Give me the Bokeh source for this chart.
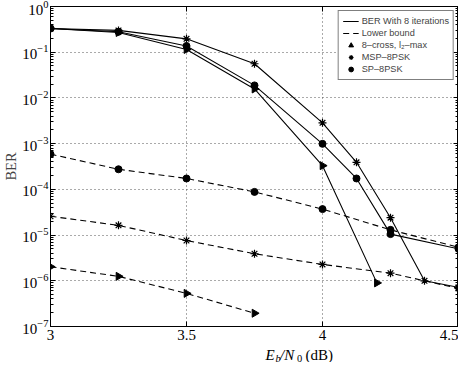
import math
from bokeh.plotting import figure
from bokeh.layouts import column
from bokeh.models import (LogAxis, LinearAxis, Legend, LegendItem, Label,
                          FixedTicker, Range1d)
from bokeh.embed import file_html
from bokeh.resources import INLINE

# ---------------- data ----------------
x_cross = [3.0, 3.25, 3.5, 3.75, 4.0, 4.2]
ber_cross = [0.33, 0.27, 0.115, 0.0157, 3.3e-4, 9.0e-7]

x_msp = [3.0, 3.25, 3.5, 3.75, 4.0, 4.125, 4.25, 4.375, 4.5]
ber_msp = [0.33, 0.30, 0.196, 0.056, 2.85e-3, 3.9e-4, 2.4e-5, 1.0e-6, 7.2e-7]

x_sp = [3.0, 3.25, 3.5, 3.75, 4.0, 4.125, 4.25, 4.5]
ber_sp = [0.33, 0.28, 0.137, 0.0188, 9.9e-4, 1.73e-4, 1.05e-5, 5.0e-6]

x_lb = [3.0, 3.25, 3.5, 3.75, 4.0, 4.25, 4.5]
lb_sp = [5.9e-4, 2.75e-4, 1.73e-4, 8.8e-5, 3.7e-5, 1.3e-5, 5.4e-6]
lb_msp = [2.58e-5, 1.63e-5, 7.6e-6, 3.9e-6, 2.28e-6, 1.47e-6, 6.8e-7]

x_lb_cross = [3.0, 3.25, 3.5, 3.75]
lb_cross = [2.03e-6, 1.25e-6, 5.3e-7, 1.95e-7]

x_ticks = [3, 3.5, 4, 4.5]
x_tick_labels = ["3", "3.5", "4", "4.5"]

legend_labels = ["BER With 8 iterations", "Lower bound", "8\u2013cross, l\u2082\u2013max",
                 "MSP\u20138PSK", "SP\u20138PSK"]

# ---------------- figure ----------------
SERIF = "Liberation Serif"
SANS = "Liberation Sans"

p = figure(width=458, height=342, x_axis_type="linear", y_axis_type="log",
           x_range=Range1d(3, 4.5), y_range=Range1d(1e-7, 1),
           output_backend="svg", toolbar_location=None, title=None,
           min_border_left=0, min_border_right=0, min_border_top=6,
           min_border_bottom=0)
p.background_fill_color = "white"
p.border_fill_color = "white"
p.outline_line_color = "black"
p.outline_line_width = 1

# axes
xa = p.xaxis[0]
xa.ticker = FixedTicker(ticks=x_ticks)
xa.major_label_overrides = {t: l for t, l in zip(x_ticks, x_tick_labels)}
ya = p.yaxis[0]
for ax in (xa, ya):
    ax.major_tick_in = 5
    ax.major_tick_out = 0
    ax.minor_tick_in = 3
    ax.minor_tick_out = 0
    ax.axis_line_color = "black"
    ax.major_tick_line_color = "black"
    ax.minor_tick_line_color = "black"
    ax.major_label_text_font = SERIF
    ax.major_label_text_font_size = "15px"
    ax.major_label_text_color = "black"
xa.minor_tick_line_color = None
xa.major_label_standoff = 3
ya.major_label_standoff = 2
ya.axis_label = "BER"
ya.axis_label_text_font = SERIF
ya.axis_label_text_font_style = "normal"
ya.axis_label_text_font_size = "14.5px"
ya.axis_label_standoff = 0

# top / right mirror axes (ticks only)
ra = LogAxis(ticker=ya.ticker)
ta = LinearAxis(ticker=FixedTicker(ticks=x_ticks))
for ax in (ra, ta):
    ax.major_tick_in = 5
    ax.major_tick_out = 0
    ax.minor_tick_in = 3
    ax.minor_tick_out = 0
    ax.major_label_text_color = None
    ax.major_label_text_font_size = "1px"
    ax.major_label_standoff = 0
    ax.axis_line_color = "black"
    ax.major_tick_line_color = "black"
    ax.minor_tick_line_color = "black"
ta.minor_tick_line_color = None
p.add_layout(ra, "right")
p.add_layout(ta, "above")

# grid
for g in (p.xgrid[0], p.ygrid[0]):
    g.grid_line_color = "#555555"
    g.grid_line_dash = "1 3"
    g.grid_line_width = 1
p.xgrid[0].ticker = FixedTicker(ticks=x_ticks)

# ---------------- curves ----------------
LW = 1.1
DASH = "6 4"
r_solid = p.line(x_cross, ber_cross, line_color="black", line_width=LW)
p.line(x_msp, ber_msp, line_color="black", line_width=LW)
p.line(x_sp, ber_sp, line_color="black", line_width=LW)
r_dash = p.line(x_lb, lb_sp, line_color="black", line_width=LW, line_dash=DASH)
p.line(x_lb, lb_msp, line_color="black", line_width=LW, line_dash=DASH)
p.line(x_lb_cross, lb_cross, line_color="black", line_width=LW, line_dash=DASH)

tri_kw = dict(marker="triangle", size=8, angle=-math.pi / 2, color="black")
ast_kw = dict(marker="asterisk", size=8, line_color="black", line_width=1.2)
cir_kw = dict(marker="circle", size=7, color="black")

r_tri = p.scatter(x_cross, ber_cross, **tri_kw)
p.scatter(x_lb_cross, lb_cross, **tri_kw)
r_ast = p.scatter(x_msp, ber_msp, **ast_kw)
p.scatter(x_lb, lb_msp, **ast_kw)
r_cir = p.scatter(x_sp, ber_sp, **cir_kw)
p.scatter(x_lb, lb_sp, **cir_kw)

# ---------------- legend ----------------
items = [LegendItem(label=legend_labels[0], renderers=[r_solid]),
         LegendItem(label=legend_labels[1], renderers=[r_dash]),
         LegendItem(label=legend_labels[2], renderers=[r_tri]),
         LegendItem(label=legend_labels[3], renderers=[r_ast]),
         LegendItem(label=legend_labels[4], renderers=[r_cir])]
leg = Legend(items=items, location="top_right")
leg.label_text_font = SANS
leg.label_text_font_size = "9.2px"
leg.label_height = 10
leg.glyph_height = 12
leg.glyph_width = 16
leg.label_standoff = 3
leg.spacing = -3
leg.padding = 4
leg.margin = 4
leg.border_line_color = "black"
leg.border_line_width = 1
leg.background_fill_alpha = 1
p.add_layout(leg)

# ---------------- x axis label strip (E_b/N_0 (dB)) ----------------
lab = figure(width=458, height=20, x_range=Range1d(0, 458), y_range=Range1d(0, 20),
             output_backend="svg", toolbar_location=None, title=None,
             x_axis_location=None, y_axis_location=None,
             min_border=0)
lab.outline_line_color = None
lab.xgrid.visible = False
lab.ygrid.visible = False
lab.background_fill_color = "white"
lab.border_fill_color = "white"

start = 215
pieces = [("E", 0, 15, "italic", 8),
          ("b", 10, 10.5, "italic", 4.5),
          ("/N", 14.5, 15, "italic", 8),
          ("0", 31.5, 10.5, "normal", 4.5),
          ("(dB)", 40, 15, "normal", 8)]
for txt, dx, fs, style, sy in pieces:
    lab.add_layout(Label(x=start + dx, y=sy, x_units="screen", y_units="screen",
                         text=txt, text_font=SERIF,
                         text_font_size=f"{fs}px", text_font_style=style,
                         text_color="black", text_align="left",
                         text_baseline="alphabetic"))

layout = column(p, lab, spacing=0)
open("out.html", "w").write(file_html(layout, INLINE))
